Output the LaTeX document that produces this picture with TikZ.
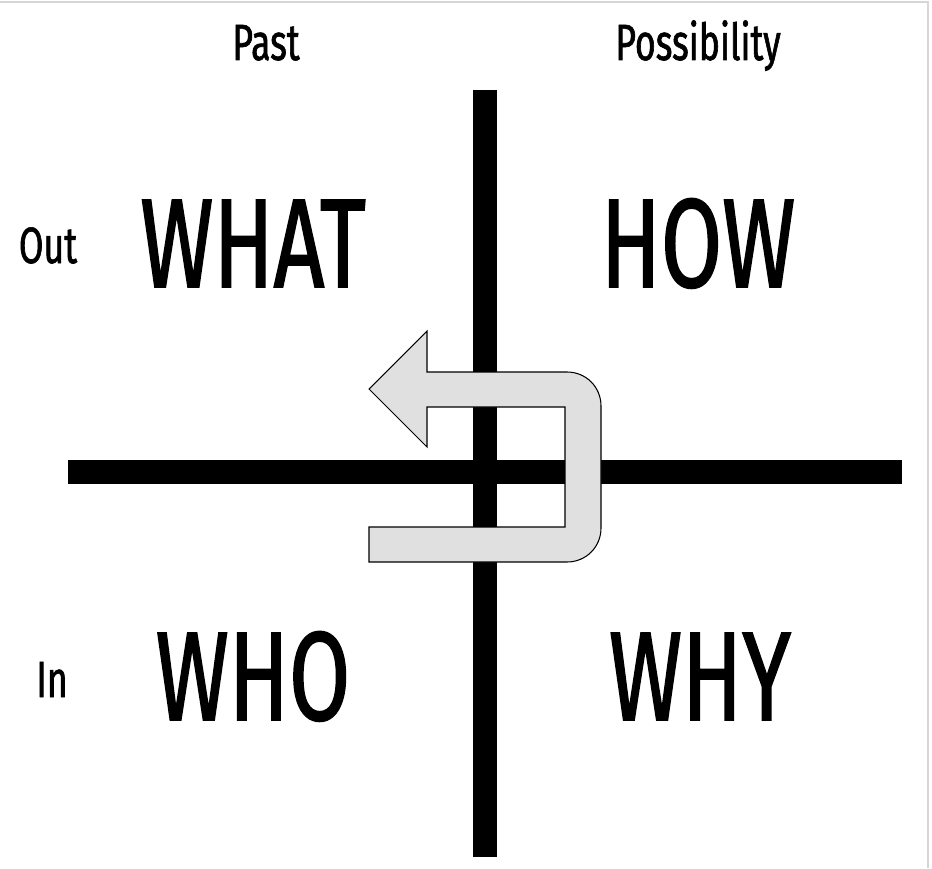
\documentclass[tikz,border=0pt]{standalone}
\usepackage{fontspec}
\setmainfont{Fira Sans}
\newfontfamily\condfont[FakeStretch=0.70, FakeBold=1.2]{Fira Sans}
\usetikzlibrary{positioning}
\definecolor{ArrowGray}{HTML}{E0E0E0}
\definecolor{FrameGray}{HTML}{D6D6D6}

\begin{document}
\begin{tikzpicture}[x=0.02cm, y=-0.02cm,
  axis/.style={line width=0.48cm},
  big/.style={font=\condfont\fontsize{72}{72}\selectfont, inner sep=0pt, anchor=base},
  lbl/.style={font=\condfont\fontsize{29}{29}\selectfont, inner sep=0pt, anchor=base}
]
\useasboundingbox (0,0) rectangle (932,868);

% ── FRAME ─────────────────────────────────────────────────────────────────────
\draw[FrameGray, line width=0.04cm] (0,2) -- (928,2) -- (928,868);

% ── AXES ──────────────────────────────────────────────────────────────────────
\coordinate (top) at (485,90);
\coordinate (bottom) at (485,857);
\coordinate (left) at (68,472);
\coordinate (right) at (902,472);
\draw[axis] (top) -- (bottom);
\draw[axis] (left) -- (right);

% ── LABELS ────────────────────────────────────────────────────────────────────
\node[lbl] (past) at (266,60) {Past};
\node[lbl] (poss) at (698,60) {Possibility};
\node[lbl] (out)  at (48,263) {Out};
\node[lbl] (in)   at (52,697) {In};

\node[big] (what) at (253,287) {WHAT};
\node[big] (how)  at (698,287) {HOW};
\node[big] (who)  at (253,720) {WHO};
\node[big] (why)  at (700,720) {WHY};

% turn-back arrow
\draw[fill=ArrowGray, line width=0.6pt, line join=miter]
  (369,389) -- (427,331) -- (427,372) -- (567,372)
  .. controls (586,372) and (601,387) .. (601,406)
  -- (601,528)
  .. controls (601,547) and (586,562) .. (567,562)
  -- (369,562) -- (369,527) -- (565,527) -- (565,407)
  -- (427,407) -- (427,447) -- cycle;

\end{tikzpicture}
\end{document}
